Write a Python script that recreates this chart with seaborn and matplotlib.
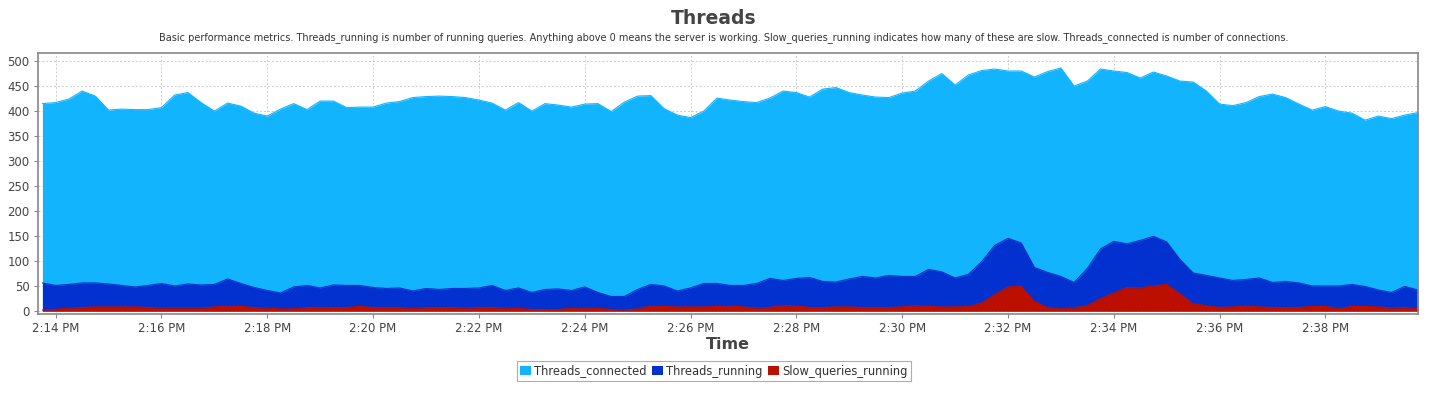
import pandas as pd
import seaborn as sns
import matplotlib.pyplot as plt
import matplotlib.dates as mdates
from matplotlib.patches import Patch

# samples every 15 s, starting 2:13:45 PM
start_time = '2024-01-01 14:13:45'

threads_connected = [
    414, 416, 423, 439, 429, 401, 403, 402, 402, 406, 431, 436, 416, 399, 415, 409, 395, 389,
    403, 414, 402, 419, 419, 406, 407, 407, 415, 418, 426, 428, 429, 428, 426, 421, 415,
    401, 416, 399, 414, 411, 407, 413, 414, 398, 417, 429, 430, 404, 391, 386, 399, 425, 421,
    418, 416, 425, 439, 436, 427, 443, 446, 436, 431, 427, 426, 435, 439, 459, 474, 451,
    471, 480, 483, 479, 479, 467, 478, 485, 449, 459, 483, 479, 476, 465, 477, 469, 459, 457,
    439, 413, 410, 416, 428, 433, 426, 413, 401, 408, 399, 395, 381, 389, 384, 391, 396,
]
threads_running = [
    56, 51, 53, 56, 56, 54, 51, 48, 51, 55, 50, 54, 52, 53, 64, 55, 47, 41,
    36, 48, 51, 46, 52, 51, 51, 47, 45, 46, 40, 45, 43, 45, 45, 46, 51,
    41, 46, 37, 43, 44, 41, 48, 37, 29, 29, 43, 53, 50, 40, 46, 55, 55, 51,
    51, 55, 65, 61, 65, 67, 59, 58, 64, 69, 66, 71, 69, 69, 83, 78, 66,
    73, 98, 131, 145, 136, 87, 77, 69, 57, 85, 124, 139, 134, 141, 149, 138, 103, 76,
    71, 66, 61, 63, 66, 57, 59, 56, 50, 50, 50, 53, 49, 42, 37, 49, 42,
]
slow_queries_running = [
    2, 3, 6, 7, 8, 8, 8, 8, 7, 6, 6, 6, 6, 8, 10, 9, 7, 6,
    4, 4, 7, 7, 7, 7, 9, 7, 7, 7, 5, 7, 7, 7, 6, 7, 7,
    6, 5, 3, 3, 3, 5, 6, 5, 3, 2, 4, 10, 9, 8, 8, 8, 9, 10,
    8, 6, 7, 11, 10, 7, 7, 8, 8, 7, 7, 7, 8, 11, 9, 8, 8,
    9, 16, 33, 48, 49, 19, 7, 4, 6, 11, 25, 36, 47, 46, 50, 53, 34, 14,
    11, 7, 8, 10, 8, 7, 7, 7, 9, 9, 5, 9, 9, 8, 6, 7, 5,
]

series_names = ['Threads_connected', 'Threads_running', 'Slow_queries_running']
series_colors = ['#13b4fe', '#0331cf', '#bb0f00']
y_ticks = [0, 50, 100, 150, 200, 250, 300, 350, 400, 450, 500]

title = 'Threads'
subtitle = ('Basic performance metrics. Threads_running is number of running queries. '
            'Anything above 0 means the server is working. Slow_queries_running indicates '
            'how many of these are slow. Threads_connected is number of connections.')

times = pd.date_range(start_time, periods=len(threads_connected), freq='15s')
data = pd.DataFrame({
    'Time': times,
    'Threads_connected': threads_connected,
    'Threads_running': threads_running,
    'Slow_queries_running': slow_queries_running,
})
long_data = data.melt(id_vars='Time', var_name='metric', value_name='value')

sns.set_style('whitegrid')
plt.rcParams['font.family'] = ['DejaVu Sans']

W, H = 1433, 393
fig = plt.figure(figsize=(W / 100, H / 100), dpi=100)
ax = fig.add_axes([38 / W, 1 - 314 / H, (1418 - 38) / W, (314 - 53) / H])

# overlapping areas, biggest at the back
for name, color in zip(series_names, series_colors):
    ax.fill_between(data['Time'], data[name], color=color, linewidth=0)
sns.lineplot(data=long_data, x='Time', y='value', hue='metric',
             palette=dict(zip(series_names, series_colors)),
             hue_order=series_names, ax=ax, legend=False, linewidth=0.8)

ax.set_xlim(times[0] - pd.Timedelta(seconds=5), times[-1])
ax.set_ylim(-6, 515)
ax.set_yticks(y_ticks)
ax.xaxis.set_major_locator(mdates.MinuteLocator(byminute=range(0, 60, 2)))
ax.xaxis.set_major_formatter(mdates.DateFormatter('%-I:%M %p'))

ax.grid(True, color='#cccccc', linestyle=(0, (2, 2)), linewidth=0.7)
for sp in ax.spines.values():
    sp.set_color('#888888')
    sp.set_linewidth(1.2)
ax.tick_params(axis='both', labelsize=8.5, labelcolor='#444444', color='#888888',
               length=3, width=0.8, pad=3, bottom=True, left=True)

ax.set_ylabel('')
ax.set_xlabel('Time', fontsize=11.5, fontweight='bold', color='#444444', va='top')
ax.xaxis.set_label_coords(0.5, -0.088)

fig.text(713.5 / W, 1 - 18 / H, title, ha='center', va='center',
         fontsize=13.5, fontweight='bold', color='#444444')
fig.text(724 / W, 1 - 38 / H, subtitle, ha='center', va='center',
         fontsize=7, color='#333333')

handles = [Patch(facecolor=c, edgecolor='none') for c in series_colors]
leg = fig.legend(handles, series_names, loc='center', bbox_to_anchor=(714 / W, 1 - 371 / H),
                 ncol=3, frameon=True, fancybox=False, fontsize=8.3,
                 handlelength=0.9, handleheight=0.9, handletextpad=0.3,
                 columnspacing=0.5, borderpad=0.3, borderaxespad=0)
leg.get_frame().set_edgecolor('#999999')
leg.get_frame().set_linewidth(0.8)
for t in leg.get_texts():
    t.set_color('#333333')

fig.savefig('out.png', dpi=100)
